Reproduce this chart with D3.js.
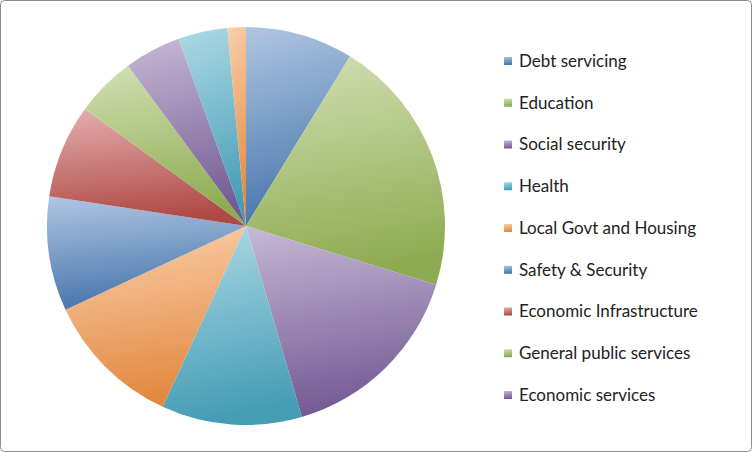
<!DOCTYPE html>
<html>
<head>
<meta charset="utf-8">
<script src="https://cdn.jsdelivr.net/npm/d3@7"></script>
<style>
  body { margin: 0; background: #fff; }
  text { font-family: Lato, "Open Sans", sans-serif; }
</style>
</head>
<body>
<svg id="chart" width="752" height="452"></svg>
<script>
// slice shares (percent), read clockwise from 12 o'clock
const categories = ["Debt servicing", "Education", "Social security", "Health",
  "Local Govt and Housing", "Safety & Security", "Economic Infrastructure",
  "General public services", "Economic services", "Other (1)", "Other (2)"];
const values = [8.75, 21.0, 15.7, 11.4, 11.2, 9.3, 7.6, 4.9, 4.6, 4.0, 1.5];
const legendCount = 9;
const palette = ["#4F81BD", "#9BBB59", "#8064A2", "#4BACC6", "#F79646",
  "#4F81BD", "#C0504D", "#9BBB59", "#8064A2", "#4BACC6", "#F79646"];

const svg = d3.select("#chart");
const cx = 246, cy = 226, r = 199;

svg.append("rect")
  .attr("x", 0.5).attr("y", 0.5).attr("width", 751).attr("height", 451)
  .attr("rx", 4).attr("fill", "#fff").attr("stroke", "#8c8c8c");

const defs = svg.append("defs");
palette.forEach((c, i) => {
  let g = defs.append("linearGradient").attr("id", "g" + i)
    .attr("x1", 0).attr("y1", 0).attr("x2", 0.15).attr("y2", 1);
  g.append("stop").attr("offset", "0%").attr("stop-color", d3.interpolateRgb(c, "#fff")(0.55));
  g.append("stop").attr("offset", "100%").attr("stop-color", d3.color(c).darker(0.25));
});

const pie = d3.pie().sort(null).value(d => d);
const arc = d3.arc().innerRadius(0).outerRadius(r);

svg.append("g")
  .attr("transform", `translate(${cx}, ${cy})`)
  .selectAll("path")
  .data(pie(values))
  .enter()
  .append("path")
  .attr("d", arc)
  .attr("fill", (d, i) => `url(#g${i})`);

const ly = d3.scalePoint()
  .domain(d3.range(legendCount))
  .range([61, 395]);

const items = svg.append("g").selectAll("g")
  .data(categories.slice(0, legendCount))
  .enter()
  .append("g")
  .attr("transform", (d, i) => `translate(504, ${ly(i)})`);

items.append("rect")
  .attr("x", 0).attr("y", -4).attr("width", 8).attr("height", 8)
  .attr("fill", (d, i) => `url(#g${i})`);

items.append("text")
  .attr("x", 15).attr("y", 0).attr("dy", "0.35em")
  .attr("font-size", 17).attr("fill", "#222")
  .text(d => d);
</script>
</body>
</html>
